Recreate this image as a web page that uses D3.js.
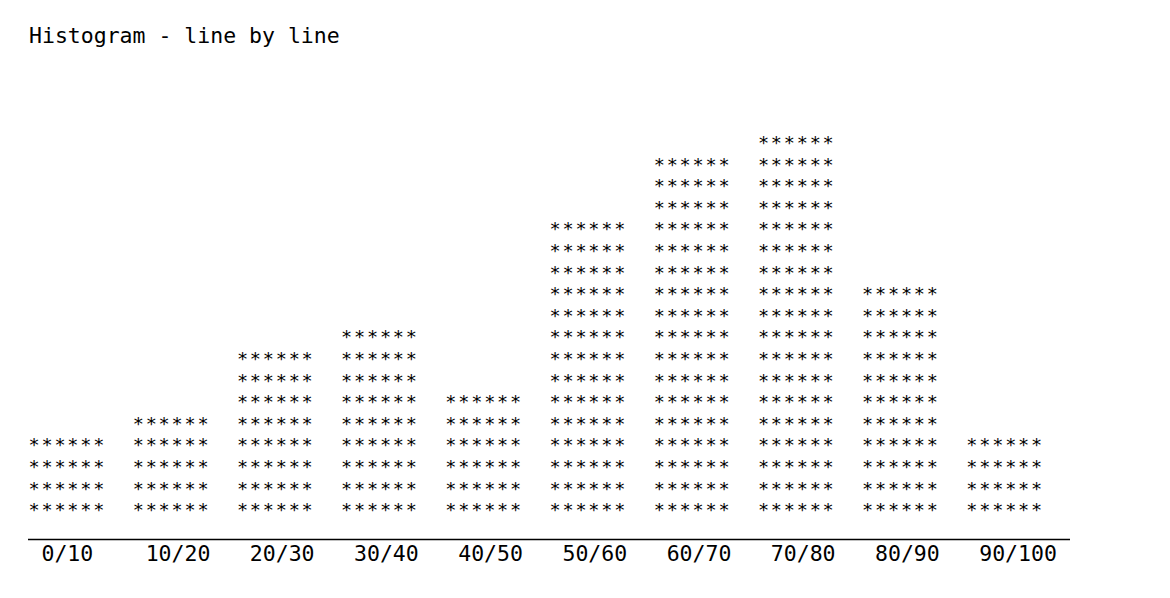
<!DOCTYPE html>
<html><head><meta charset="utf-8">
<script src="https://cdn.jsdelivr.net/npm/d3@7"></script>
<style>body{margin:0;background:#fff}text{font-family:"DejaVu Sans Mono",monospace;fill:#000}</style>
</head><body>
<svg id="c" width="1170" height="598"></svg>
<script>
const title = "Histogram - line by line";
const categories = ["0/10","10/20","20/30","30/40","40/50","50/60","60/70","70/80","80/90","90/100"];
const counts = [4,5,8,9,6,14,17,18,11,4];
const barGlyph = "******";

const fs = 21.5, charW = fs*0.602;
const starFs = 18.5, starLs = charW - starFs*0.602;
const svg = d3.select("#c");
const x = d3.scaleBand().domain(categories).range([28.5,1070.5]).padding(0);
const y = d3.scaleLinear().domain([0,18]).range([516.1,127.4]);

svg.append("text").attr("x",29).attr("y",43).style("font-size",fs+"px").text(title);

const g = svg.append("g");
categories.forEach((c,i)=>{
  const rows = d3.range(counts[i]);
  g.selectAll(null).data(rows).enter().append("text")
    .attr("x", x(c))
    .attr("y", r=>y(r))
    .style("font-size",starFs+"px")
    .style("letter-spacing",starLs+"px")
    .text(barGlyph);
});

svg.append("line").attr("x1",28).attr("x2",1070).attr("y1",539.5).attr("y2",539.5).attr("stroke","#000").attr("stroke-width",1.5);

svg.selectAll(".lab").data(categories).enter().append("text")
  .attr("x", c=>x(c)+charW)
  .attr("y",561)
  .style("font-size",fs+"px")
  .text(d=>d);
</script>
</body></html>
